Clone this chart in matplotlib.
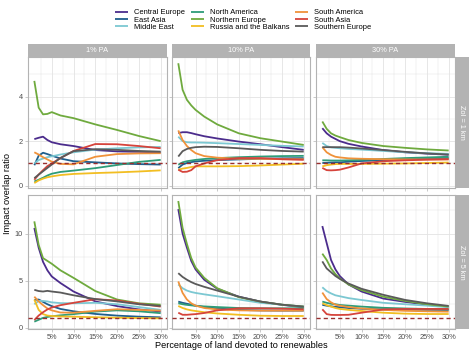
import matplotlib
matplotlib.use("Agg")
import matplotlib.pyplot as plt

plt.rcParams['font.family'] = ['Liberation Sans', 'DejaVu Sans']

# ---------------- data ----------------
x_pct = [1, 2, 3, 4, 5, 7, 10, 15, 20, 25, 30]

regions = ["Central Europe", "East Asia", "Middle East", "North America",
           "Northern Europe", "Russia and the Balkans", "South America",
           "South Asia", "Southern Europe"]
colors = ["#4B2C8C", "#1F5E8C", "#7CC8D2", "#2E9C78", "#6FAA3E",
          "#F2BE22", "#F0923A", "#D6443C", "#5A5A5A"]

pa_labels = ["1% PA", "10% PA", "30% PA"]
zoi_labels = ["ZoI = 1 km", "ZoI = 5 km"]
x_ticks = [5, 10, 15, 20, 25, 30]
x_tick_labels = ["5%", "10%", "15%", "20%", "25%", "30%"]
y_ticks_rows = [[0, 2, 4], [0, 5, 10]]
y_minor_rows = [[1, 3, 5], [2.5, 7.5, 12.5]]
y_lims_rows = [(-0.1, 5.77), (-0.13, 14.1)]

pa1_zoi1 = {
    "Central Europe":         [2.09, 2.15, 2.2, 2.05, 1.95, 1.86, 1.78, 1.6, 1.54, 1.52, 1.49],
    "East Asia":              [0.92, 1.35, 1.48, 1.42, 1.35, 1.22, 1.1, 1.05, 1.0, 0.97, 0.95],
    "Middle East":            [1.0, 1.15, 1.22, 1.28, 1.32, 1.4, 1.5, 1.62, 1.68, 1.72, 1.74],
    "North America":          [0.19, 0.27, 0.36, 0.46, 0.54, 0.62, 0.68, 0.79, 0.93, 1.07, 1.16],
    "Northern Europe":        [4.7, 3.5, 3.2, 3.22, 3.3, 3.15, 3.03, 2.75, 2.5, 2.23, 2.0],
    "Russia and the Balkans": [0.12, 0.24, 0.32, 0.38, 0.42, 0.48, 0.53, 0.57, 0.6, 0.64, 0.69],
    "South America":          [1.5, 1.4, 1.28, 1.18, 1.08, 0.98, 0.96, 1.3, 1.42, 1.45, 1.46],
    "South Asia":             [0.27, 0.5, 0.7, 0.88, 1.0, 1.24, 1.56, 1.87, 1.86, 1.78, 1.68],
    "Southern Europe":        [0.34, 0.5, 0.65, 0.8, 0.95, 1.25, 1.55, 1.64, 1.61, 1.56, 1.53],
}
pa10_zoi1 = {
    "Central Europe":         [2.36, 2.4, 2.4, 2.36, 2.31, 2.22, 2.12, 1.98, 1.86, 1.73, 1.61],
    "East Asia":              [0.79, 0.95, 1.02, 1.06, 1.09, 1.12, 1.15, 1.18, 1.21, 1.23, 1.24],
    "Middle East":            [2.2, 2.0, 1.95, 1.94, 1.94, 1.93, 1.91, 1.87, 1.83, 1.79, 1.76],
    "North America":          [0.94, 1.05, 1.1, 1.13, 1.16, 1.2, 1.24, 1.28, 1.31, 1.33, 1.34],
    "Northern Europe":        [5.49, 4.3, 3.85, 3.6, 3.4, 3.1, 2.75, 2.35, 2.13, 1.98, 1.83],
    "Russia and the Balkans": [0.72, 0.77, 0.8, 0.84, 0.87, 0.87, 0.87, 0.88, 0.91, 0.95, 0.99],
    "South America":          [2.48, 2.05, 1.78, 1.6, 1.46, 1.33, 1.26, 1.21, 1.21, 1.19, 1.19],
    "South Asia":             [0.72, 0.62, 0.63, 0.7, 0.87, 1.0, 1.15, 1.24, 1.24, 1.19, 1.16],
    "Southern Europe":        [1.31, 1.55, 1.65, 1.7, 1.73, 1.75, 1.74, 1.68, 1.61, 1.56, 1.53],
}
pa30_zoi1 = {
    "Central Europe":         [2.58, 2.35, 2.2, 2.1, 2.0, 1.88, 1.76, 1.6, 1.5, 1.44, 1.39],
    "East Asia":              [1.02, 1.03, 1.04, 1.05, 1.05, 1.08, 1.11, 1.15, 1.19, 1.22, 1.24],
    "Middle East":            [1.92, 1.78, 1.72, 1.7, 1.68, 1.65, 1.62, 1.56, 1.5, 1.46, 1.43],
    "North America":          [1.14, 1.14, 1.13, 1.13, 1.13, 1.14, 1.16, 1.2, 1.24, 1.27, 1.3],
    "Northern Europe":        [2.88, 2.55, 2.35, 2.25, 2.18, 2.05, 1.92, 1.78, 1.7, 1.63, 1.58],
    "Russia and the Balkans": [0.87, 0.92, 0.95, 0.97, 0.98, 0.98, 0.98, 0.99, 1.0, 1.02, 1.04],
    "South America":          [1.73, 1.5, 1.38, 1.3, 1.27, 1.23, 1.21, 1.19, 1.18, 1.18, 1.18],
    "South Asia":             [0.8, 0.7, 0.69, 0.7, 0.72, 0.82, 1.0, 1.1, 1.14, 1.17, 1.19],
    "Southern Europe":        [1.73, 1.73, 1.73, 1.73, 1.73, 1.71, 1.67, 1.6, 1.52, 1.45, 1.4],
}
pa1_zoi5 = {
    "Central Europe":         [10.6, 8.5, 7.0, 6.1, 5.45, 4.75, 3.85, 2.8, 2.3, 1.95, 1.72],
    "East Asia":              [2.96, 3.0, 2.75, 2.5, 2.3, 2.0, 1.75, 1.47, 1.29, 1.18, 1.11],
    "Middle East":            [2.5, 2.85, 2.85, 2.8, 2.7, 2.62, 2.6, 2.65, 2.5, 2.2, 1.9],
    "North America":          [0.65, 0.85, 1.05, 1.15, 1.22, 1.32, 1.45, 1.72, 1.85, 1.75, 1.55],
    "Northern Europe":        [11.3, 8.8, 7.4, 7.1, 6.8, 6.1, 5.3, 3.9, 3.0, 2.6, 2.45],
    "Russia and the Balkans": [3.0, 1.9, 1.45, 1.3, 1.25, 1.2, 1.18, 1.12, 1.07, 1.03, 1.0],
    "South America":          [3.3, 2.8, 2.4, 2.05, 1.85, 1.62, 1.6, 1.8, 1.97, 1.9, 1.82],
    "South Asia":             [0.82, 1.3, 1.65, 1.95, 2.15, 2.4, 2.65, 3.03, 2.9, 2.55, 2.25],
    "Southern Europe":        [4.03, 3.9, 3.85, 3.92, 3.85, 3.74, 3.45, 3.05, 2.8, 2.5, 2.32],
}
pa10_zoi5 = {
    "Central Europe":         [12.6, 10.0, 8.5, 7.1, 6.2, 5.1, 4.15, 3.3, 2.78, 2.43, 2.18],
    "East Asia":              [2.78, 2.65, 2.55, 2.45, 2.35, 2.2, 2.05, 1.9, 1.84, 1.82, 1.82],
    "Middle East":            [4.6, 4.2, 3.95, 3.8, 3.7, 3.55, 3.35, 3.0, 2.65, 2.45, 2.25],
    "North America":          [2.6, 2.5, 2.43, 2.38, 2.33, 2.27, 2.2, 2.1, 2.07, 2.07, 2.07],
    "Northern Europe":        [13.46, 10.6, 8.9, 7.4, 6.4, 5.3, 4.2, 3.25, 2.78, 2.45, 2.25],
    "Russia and the Balkans": [2.32, 2.1, 1.95, 1.85, 1.78, 1.65, 1.52, 1.38, 1.28, 1.25, 1.25],
    "South America":          [4.92, 3.7, 3.0, 2.6, 2.35, 2.1, 1.95, 1.85, 1.82, 1.82, 1.82],
    "South Asia":             [1.6, 1.38, 1.38, 1.42, 1.45, 1.57, 1.85, 2.07, 2.07, 2.03, 1.96],
    "Southern Europe":        [5.8, 5.4, 5.1, 4.85, 4.65, 4.35, 3.95, 3.3, 2.78, 2.45, 2.25],
}
pa30_zoi5 = {
    "Central Europe":         [10.8, 9.0, 7.2, 6.2, 5.5, 4.6, 3.85, 3.1, 2.75, 2.45, 2.25],
    "East Asia":              [2.43, 2.35, 2.28, 2.22, 2.18, 2.1, 2.02, 1.96, 1.93, 1.9, 1.89],
    "Middle East":            [4.3, 3.9, 3.65, 3.45, 3.35, 3.15, 2.95, 2.65, 2.5, 2.35, 2.18],
    "North America":          [2.78, 2.65, 2.55, 2.5, 2.42, 2.35, 2.25, 2.12, 2.05, 2.0, 1.96],
    "Northern Europe":        [7.87, 7.2, 6.3, 5.7, 5.25, 4.6, 4.0, 3.3, 2.85, 2.5, 2.25],
    "Russia and the Balkans": [2.6, 2.4, 2.25, 2.1, 2.0, 1.9, 1.78, 1.6, 1.5, 1.46, 1.46],
    "South America":          [3.74, 3.05, 2.7, 2.45, 2.35, 2.2, 2.05, 1.9, 1.8, 1.75, 1.71],
    "South Asia":             [1.96, 1.45, 1.37, 1.36, 1.36, 1.38, 1.6, 1.95, 2.0, 2.0, 2.0],
    "Southern Europe":        [7.05, 6.3, 5.9, 5.5, 5.2, 4.7, 4.14, 3.5, 2.96, 2.6, 2.32],
}
reference_ratio = 1.0

panels = [[pa1_zoi1, pa10_zoi1, pa30_zoi1],
          [pa1_zoi5, pa10_zoi5, pa30_zoi5]]

# ---------------- layout ----------------
W, H = 474, 355
fig = plt.figure(figsize=(W / 100, H / 100), dpi=100)


def rect(l, t, r, b):
    return [l / W, 1 - b / H, (r - l) / W, (b - t) / H]


col_x = [(28, 167), (172, 310), (316, 455)]
row_y = [(57, 188), (195, 329)]
strip_grey = "#B3B3B3"
grid_col = "#E3E3E3"
tick_fs = 5.3

handles = []
for r in range(2):
    for c in range(3):
        l, rr = col_x[c]
        t, b = row_y[r]
        ax = fig.add_axes(rect(l, t, rr, b))
        data = panels[r][c]
        for reg, col in zip(regions, colors):
            h, = ax.plot(x_pct, data[reg], color=col, lw=1.3, label=reg,
                         solid_capstyle="butt", solid_joinstyle="round",
                         zorder=3)
            if r == 0 and c == 0:
                handles.append(h)
        ax.axhline(reference_ratio, color="#9A2E2E", lw=1.0,
                   ls=(0, (3, 2.2)), zorder=5)
        ax.set_xlim(-0.45, 31.45)
        ax.set_ylim(*y_lims_rows[r])
        ax.set_xticks(x_ticks)
        ax.set_xticks([2.5, 7.5, 12.5, 17.5, 22.5, 27.5], minor=True)
        ax.set_yticks(y_ticks_rows[r])
        ax.set_yticks(y_minor_rows[r], minor=True)
        ax.grid(which="major", color=grid_col, lw=0.6, zorder=0)
        ax.grid(which="minor", color=grid_col, lw=0.35, zorder=0)
        ax.set_axisbelow(True)
        for s in ax.spines.values():
            s.set_color(strip_grey)
            s.set_linewidth(0.8)
        ax.tick_params(which="minor", length=0)
        ax.tick_params(which="major", length=2, width=0.5, color=strip_grey,
                       labelsize=tick_fs, labelcolor="#4D4D4D", pad=1.5)
        if r == 1:
            ax.set_xticklabels(x_tick_labels)
        else:
            ax.tick_params(axis="x", labelbottom=False)
        if c == 0:
            ax.set_yticklabels([str(v) for v in y_ticks_rows[r]])
        else:
            ax.tick_params(axis="y", labelleft=False)

# top strips
for c in range(3):
    l, rr = col_x[c]
    sax = fig.add_axes(rect(l, 44, rr, 57))
    sax.set_facecolor(strip_grey)
    sax.set_xticks([]); sax.set_yticks([])
    for s in sax.spines.values():
        s.set_visible(False)
    sax.text(0.5, 0.5, pa_labels[c], color="white", fontsize=tick_fs,
             ha="center", va="center", transform=sax.transAxes)

# right strips
for r in range(2):
    t, b = row_y[r]
    sax = fig.add_axes(rect(455, t, 469, b))
    sax.set_facecolor(strip_grey)
    sax.set_xticks([]); sax.set_yticks([])
    for s in sax.spines.values():
        s.set_visible(False)
    sax.text(0.5, 0.5, zoi_labels[r], color="white", fontsize=tick_fs,
             ha="center", va="center", rotation=-90, transform=sax.transAxes)

fig.text(241.5 / W, 1 - 346 / H, "Percentage of land devoted to renewables",
         fontsize=6.6, ha="center", va="center")
fig.text(8 / W, 1 - 193 / H, "Impact overlap ratio", fontsize=6.6,
         ha="center", va="center", rotation=90)

fig.legend(handles, regions, ncol=3, loc="center",
           bbox_to_anchor=(243 / W, 1 - 20 / H), frameon=False,
           fontsize=5.4, handlelength=1.75, handletextpad=0.8,
           columnspacing=0.75, labelspacing=0.0, borderpad=0.0)

fig.savefig("out.png", dpi=100, facecolor="white")
